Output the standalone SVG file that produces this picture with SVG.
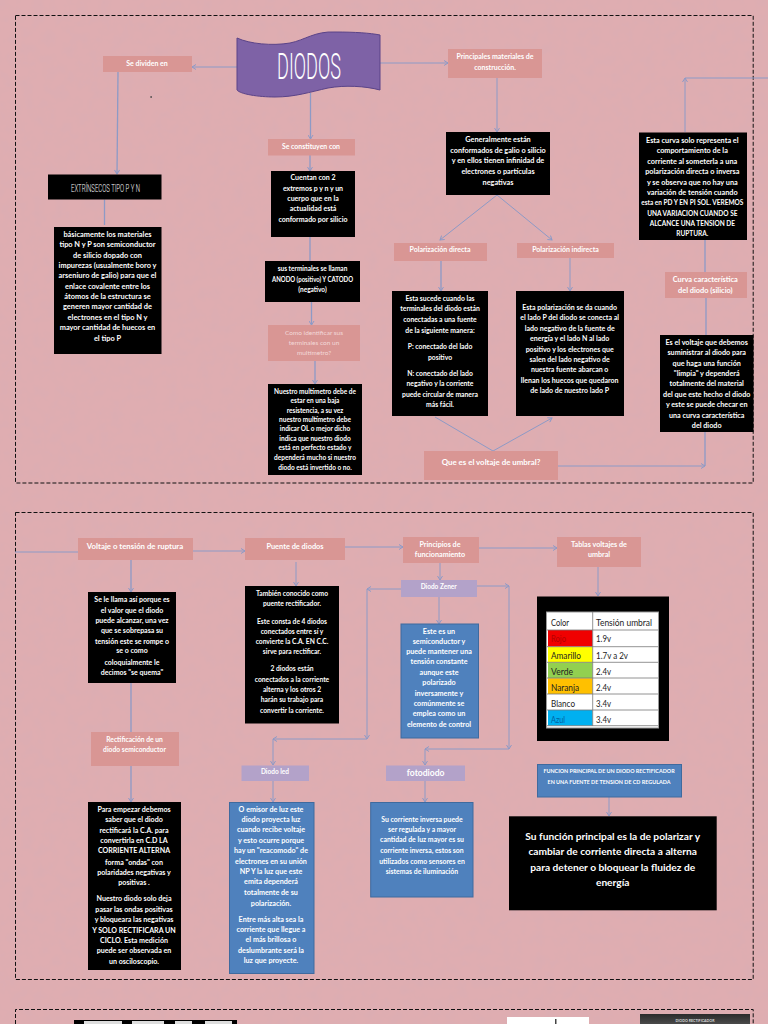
<svg xmlns="http://www.w3.org/2000/svg" width="768" height="1024" viewBox="0 0 768 1024">
<style>
text{font-family:Lato,"Open Sans","Liberation Sans",sans-serif;font-weight:700;fill:#fff;text-anchor:middle;font-size:7px}
.k{fill:#000}.s{fill:#d99694}.b{fill:#4f81bd;stroke:#3f6a9e;stroke-width:1}.l{fill:#b3a2c9}
.frame{fill:none;stroke:#111;stroke-width:1;stroke-dasharray:4 2}
.c{fill:none;stroke:#8d9ac6;stroke-width:1}.t{stroke-width:1.3}
.a{marker-end:url(#ah)}
.thin{font-weight:300;font-family:Roboto,Lato,sans-serif}
.tb{font-family:Lato,sans-serif;font-weight:400;font-size:10px;text-anchor:start;fill:#222}
</style>
<defs>
<marker id="ah" markerWidth="6" markerHeight="6" refX="5" refY="3" orient="auto" markerUnits="userSpaceOnUse"><path d="M1,0.5 L5,3 L1,5.5" fill="none" stroke="#8d9ac6" stroke-width="1"/></marker>
<filter id="tex" x="0" y="0" width="100%" height="100%"><feTurbulence type="fractalNoise" baseFrequency="0.09" numOctaves="4" seed="4"/><feColorMatrix values="0 0 0 0 0.70  0 0 0 0 0.42  0 0 0 0 0.45  1.3 0 0 0 -0.5"/></filter>
<linearGradient id="dk" x1="0" y1="0" x2="0" y2="1"><stop offset="0" stop-color="#2b2b2b"/><stop offset="1" stop-color="#4a4a4a"/></linearGradient>
</defs>
<rect width="768" height="1024" fill="#dfadb1"/>
<rect width="768" height="1024" filter="url(#tex)"/>
<rect class="frame" x="15.5" y="15.5" width="737.7" height="467.5"/>
<rect class="frame" x="15.5" y="512.5" width="737.7" height="467"/>
<path class="frame" d="M15.5,1024 V1009.5 H753.2 V1024"/>
<rect x="150.5" y="96" width="1.2" height="2" fill="#444"/>

<g id="connectors">
<path class="c a" d="M237,67 H192"/>
<path class="c t a" d="M118,72 L117,174"/>
<path class="c t" d="M104.5,199.5 V225"/>
<path class="c t a" d="M310.500,93 V139"/>
<path class="c t a" d="M310,155 V171"/>
<path class="c t" d="M310,232 V261"/>
<path class="c t a" d="M311.500,302 V325"/>
<path class="c t a" d="M315,361 V384"/>
<path class="c a" d="M380,63 H448"/>
<path class="c a" d="M497,78 V132"/>
<path class="c a" d="M497,195 L440,240"/>
<path class="c a" d="M497,195 L552,240"/>
<path class="c t a" d="M441,261 V291"/>
<path class="c a" d="M570,258 V291"/>
<path class="c" d="M435,417 L493,451"/>
<path class="c a" d="M493,451 L552,418"/>
<path class="c a" d="M558,466 H705"/>
<path class="c t" d="M705,432 V466"/>
<path class="c t" d="M705,240 V272"/>
<path class="c t" d="M706,298 V335"/>
<path class="c a" d="M685,132 V78"/>
<path class="c" d="M685,78 H768"/>
<path class="c" d="M15,552 H78"/>
<path class="c t a" d="M131,560 V592"/>
<path class="c t" d="M131,683 V732"/>
<path class="c t a" d="M131,766 V802"/>
<path class="c a" d="M193,551 H245"/>
<path class="c a" d="M296,562 V586"/>
<path class="c a" d="M345,547 H403"/>
<path class="c a" d="M479,548 H557"/>
<path class="c a" d="M440,563 V580"/>
<path class="c a" d="M477,586 H509"/>
<path class="c a" d="M509,586 V749"/>
<path class="c a" d="M509,749 H425"/>
<path class="c a" d="M425,749 V765"/>
<path class="c a" d="M401,589 H367"/>
<path class="c a" d="M367,589 V739"/>
<path class="c a" d="M367,739 H273"/>
<path class="c a" d="M273,739 V765"/>
<path class="c a" d="M439,597 V624"/>
<path class="c a" d="M598,567 V596"/>
<path class="c a" d="M273,781 V802"/>
<path class="c a" d="M425,781 V802"/>
<path class="c a" d="M609,797 V816"/>
</g>

<g id="n-diodos"><path d="M237,38 C250,44 272,46 290,43 C305,40 315,31 335,32 C355,32 370,33 380,35 V90 C365,86 345,85 328,88 C310,92 295,97 275,97 C258,97 240,94 237,90 Z" fill="#7e62a6" stroke="#5a4388" stroke-width="1"/><text class="thin" x="309" y="79" textLength="64" lengthAdjust="spacingAndGlyphs" style="font-size:36px">DIODOS</text></g>
<g id="n-dividen"><rect class="s" x="103" y="56" width="89" height="16"/><text x="147" y="66.200">Se dividen en</text></g>
<g id="n-principales"><rect class="s" x="448" y="49" width="94" height="29"/><text><tspan x="495" y="59">Principales materiales de</tspan><tspan x="495" y="69.500">construcción.</tspan></text></g>
<g id="n-constituyen"><rect class="s" x="268" y="139" width="87" height="16.500"/><text x="311" y="148.500" style="font-size:6.9px">Se constituyen con</text></g>
<g id="n-extrinsecos"><rect class="k" x="48" y="174.500" width="113.500" height="25"/><text class="thin" x="105.500" y="191.500" textLength="69" lengthAdjust="spacingAndGlyphs" style="font-size:11px">EXTRÍNSECOS TIPO P Y N</text></g>
<g id="n-basicamente"><rect class="k" x="54" y="227" width="107.500" height="127"/><text style="font-size:7.4px"><tspan x="107.500" y="236.500">básicamente los materiales</tspan><tspan x="107.500" y="246.500">tipo N y P son semiconductor</tspan><tspan x="107.500" y="258">de silicio dopado con</tspan><tspan x="107.500" y="268">impurezas (usualmente boro y</tspan><tspan x="107.500" y="278">arseniuro de galio) para que el</tspan><tspan x="107.500" y="288.500">enlace covalente entre los</tspan><tspan x="107.500" y="299">átomos de la estructura se</tspan><tspan x="107.500" y="309">generen mayor cantidad de</tspan><tspan x="107.500" y="320">electrones en el tipo N y</tspan><tspan x="107.500" y="330">mayor cantidad de huecos en</tspan><tspan x="107.500" y="340.500">el tipo P</tspan></text></g>
<g id="n-cuentan"><rect class="k" x="271" y="171" width="84" height="66"/><text><tspan x="313" y="180.200">Cuentan con 2</tspan><tspan x="313" y="191.200">extremos p y  n y un</tspan><tspan x="313" y="201.200">cuerpo que en la</tspan><tspan x="313" y="211.200">actualidad está</tspan><tspan x="313" y="222.200">conformado por silicio</tspan></text></g>
<g id="n-terminales"><rect class="k" x="265" y="261" width="95" height="41"/><text style="font-size:6.5px"><tspan x="312.500" y="271">sus terminales se llaman</tspan></text><text x="312.500" y="281.500" style="font-size:6.5px" textLength="81" lengthAdjust="spacingAndGlyphs">ANODO (positivo) Y CATODO</text><text x="312.500" y="292" style="font-size:6.5px">(negativo)</text></g>
<g id="n-identificar"><rect class="s" x="268" y="325" width="92" height="36"/><text style="font-weight:400;fill:#f3d9d9;font-size:6.5px"><tspan x="314" y="335.300">Como identificar sus</tspan><tspan x="314" y="344.500">terminales con un</tspan><tspan x="314" y="354.500">multímetro?</tspan></text></g>
<g id="n-multimetro"><rect class="k" x="268" y="384" width="94" height="91"/><text style="font-size:6.5px"><tspan x="315" y="394.200">Nuestro multímetro debe de</tspan><tspan x="315" y="403.200">estar en una baja</tspan><tspan x="315" y="412.500">resistencia, a su vez</tspan><tspan x="315" y="422.200">nuestro multímetro debe</tspan><tspan x="315" y="431.200">indicar OL o mejor dicho</tspan><tspan x="315" y="440.500">indica que nuestro diodo</tspan><tspan x="315" y="450.200">está en perfecto estado y</tspan><tspan x="315" y="459.500">dependerá mucho si nuestro</tspan><tspan x="315" y="469.500">diodo está invertido o no.</tspan></text></g>
<g id="n-generalmente"><rect class="k" x="446" y="132" width="104" height="63"/><text style="font-size:7.3px"><tspan x="498" y="142.200">Generalmente están</tspan><tspan x="498" y="153.200">conformados de galio o silicio</tspan><tspan x="498" y="163.200">y en ellos tienen infinidad de</tspan><tspan x="498" y="173.500">electrones o partículas</tspan><tspan x="498" y="184.500">negativas</tspan></text></g>
<g id="n-poldir"><rect class="s" x="394" y="243" width="93" height="18"/><text x="440" y="252">Polarización directa</text></g>
<g id="n-polind"><rect class="s" x="517" y="243" width="97" height="15"/><text x="565.500" y="252">Polarización indirecta</text></g>
<g id="n-sucede"><rect class="k" x="392" y="291" width="96" height="125"/><text style="font-size:6.8px"><tspan x="440" y="301.200">Esta sucede cuando las</tspan><tspan x="440" y="311.200">terminales del diodo están</tspan><tspan x="440" y="322.200">conectadas a una fuente</tspan><tspan x="440" y="332.500">de   la siguiente manera:</tspan><tspan x="440" y="349.200">P: conectado del lado</tspan><tspan x="440" y="359.500">positivo</tspan><tspan x="440" y="375.500">N: conectado del lado</tspan><tspan x="440" y="386.200">negativo y la corriente</tspan><tspan x="440" y="396.500">puede circular de manera</tspan><tspan x="440" y="406.500">más fácil.</tspan></text></g>
<g id="n-polarizacion"><rect class="k" x="516" y="291" width="108" height="125"/><text style="font-size:7px"><tspan x="569.700" y="309.900">Esta polarización se da cuando</tspan><tspan x="569.700" y="319.500">el lado P del diodo se conecta al</tspan><tspan x="569.700" y="331.200">lado negativo de la fuente de</tspan><tspan x="569.700" y="341.200">energía y el lado N al lado</tspan><tspan x="569.700" y="351.500">positivo y los electrones que</tspan><tspan x="569.700" y="361.900">salen del lado negativo de</tspan><tspan x="569.700" y="372.200">nuestra fuente abarcan o</tspan><tspan x="569.700" y="382.500">llenan los huecos que quedaron</tspan><tspan x="569.700" y="393.200">de lado de nuestro lado P</tspan></text></g>
<g id="n-umbral"><rect class="s" x="424" y="451" width="134" height="29"/><text x="491" y="465.300" style="font-size:7.9px">Que es el voltaje de umbral?</text></g>
<g id="n-curva"><rect class="k" x="639" y="132.500" width="108" height="107.500"/><text style="font-size:7.3px"><tspan x="692.300" y="142.500">Esta curva solo representa el</tspan><tspan x="692.300" y="153.200">comportamiento de la</tspan><tspan x="692.300" y="163.500">corriente al someterla a una</tspan><tspan x="692.300" y="173.900">polarización directa o inversa</tspan><tspan x="692.300" y="184.900">y se observa que no hay una</tspan><tspan x="692.300" y="194.900">variación de tensión cuando</tspan><tspan x="692.300" y="204.900" style="font-size:6.5px">esta en PD Y EN PI SOL. VEREMOS</tspan><tspan x="692.300" y="215.900" style="font-size:6.5px">UNA VARIACION CUANDO SE</tspan><tspan x="692.300" y="225.900" style="font-size:6.5px">ALCANCE UNA TENSION DE</tspan><tspan x="692.300" y="235.500" style="font-size:6.5px">RUPTURA.</tspan></text></g>
<g id="n-curvacar"><rect class="s" x="665" y="272" width="82" height="26"/><text style="font-size:7.4px"><tspan x="705.300" y="282">Curva característica</tspan><tspan x="705.300" y="293">del diodo (silicio)</tspan></text></g>
<g id="n-voltaje"><rect class="k" x="660" y="335" width="93.500" height="97"/><text style="font-size:7.2px"><tspan x="706.700" y="345.200">Es el voltaje que debemos</tspan><tspan x="706.700" y="355.200">suministrar al diodo para</tspan><tspan x="706.700" y="365.500">que haga una función</tspan><tspan x="706.700" y="375.900">"limpia" y dependerá</tspan><tspan x="706.700" y="386.200">totalmente del material</tspan><tspan x="706.700" y="396.500">del que este hecho el diodo</tspan><tspan x="706.700" y="407.200">y este se puede checar en</tspan><tspan x="706.700" y="417.500">una curva característica</tspan><tspan x="706.700" y="427.900">del diodo</tspan></text></g>

<g id="n-ruptura"><rect class="s" x="78" y="538" width="115" height="22"/><text x="135" y="548.800" style="font-size:7.8px">Voltaje o tensión de ruptura</text></g>
<g id="n-puente"><rect class="s" x="245" y="538" width="100" height="22"/><text x="295" y="548.800" style="font-size:7.4px">Puente de diodos</text></g>
<g id="n-principios"><rect class="s" x="403" y="537" width="76" height="26"/><text style="font-size:7.2px"><tspan x="440" y="547">Principios de</tspan><tspan x="440" y="557">funcionamiento</tspan></text></g>
<g id="n-tablas"><rect class="s" x="557" y="537" width="84" height="30"/><text style="font-size:7.2px"><tspan x="599" y="547">Tablas voltajes de</tspan><tspan x="599" y="557">umbral</tspan></text></g>
<g id="n-zener"><rect class="l" x="401" y="580" width="76" height="17"/><text x="438.700" y="589.200" style="font-size:6.5px">Diodo Zener</text></g>
<g id="n-zener-txt"><rect class="b" x="401" y="624" width="77.500" height="114"/><text style="font-size:7.2px"><tspan x="439" y="633.500">Este es un</tspan><tspan x="439" y="643.900">semiconductor y</tspan><tspan x="439" y="654.200">puede mantener una</tspan><tspan x="439" y="664.200">tensión constante</tspan><tspan x="439" y="674.500">aunque este</tspan><tspan x="439" y="685.200">polarizado</tspan><tspan x="439" y="695.500">inversamente y</tspan><tspan x="439" y="705.900">comúnmente se</tspan><tspan x="439" y="715.900">emplea como un</tspan><tspan x="439" y="726.500">elemento de control</tspan></text></g>
<g id="n-tabla"><rect class="k" x="537" y="596.500" width="132" height="144.500"/>
<rect x="546.500" y="612" width="112" height="116" fill="#fff" stroke="#999"/>
<rect x="548" y="630" width="44.500" height="16.500" fill="#f00000"/><rect x="548" y="647" width="44.500" height="15.300" fill="#ffff00"/><rect x="548" y="662.500" width="44.500" height="15.500" fill="#92d050"/><rect x="548" y="678.200" width="44.500" height="15.800" fill="#ffc000"/><rect x="548" y="710" width="44.500" height="15.700" fill="#00b0f0"/>
<path d="M547,630 H658 M547,646.700 H658 M547,662.300 H658 M547,678 H658 M547,694 H658 M547,710 H658 M547,725.700 H658 M592.700,612 V726" stroke="#777" stroke-width="0.800" fill="none"/>
<text class="tb" x="551" y="626" textLength="18" lengthAdjust="spacingAndGlyphs">Color</text><text class="tb" x="596" y="626" textLength="56" lengthAdjust="spacingAndGlyphs">Tensión umbral</text>
<text class="tb" x="551" y="642" style="fill:#b30000" textLength="15" lengthAdjust="spacingAndGlyphs">Rojo</text><text class="tb" x="596" y="642" textLength="15" lengthAdjust="spacingAndGlyphs">1.9v</text>
<text class="tb" x="551" y="659" textLength="30" lengthAdjust="spacingAndGlyphs">Amarillo</text><text class="tb" x="596" y="659" textLength="32" lengthAdjust="spacingAndGlyphs">1.7v a 2v</text>
<text class="tb" x="551" y="675" textLength="22" lengthAdjust="spacingAndGlyphs">Verde</text><text class="tb" x="596" y="675" textLength="15" lengthAdjust="spacingAndGlyphs">2.4v</text>
<text class="tb" x="551" y="691" textLength="28" lengthAdjust="spacingAndGlyphs">Naranja</text><text class="tb" x="596" y="691" textLength="15" lengthAdjust="spacingAndGlyphs">2.4v</text>
<text class="tb" x="551" y="707" textLength="24" lengthAdjust="spacingAndGlyphs">Blanco</text><text class="tb" x="596" y="707" textLength="15" lengthAdjust="spacingAndGlyphs">3.4v</text>
<text class="tb" x="551" y="723" style="fill:#0060a0" textLength="14" lengthAdjust="spacingAndGlyphs">Azul</text><text class="tb" x="596" y="723" textLength="15" lengthAdjust="spacingAndGlyphs">3.4v</text></g>
<g id="n-llama"><rect class="k" x="88" y="592" width="88" height="91"/><text><tspan x="132" y="602.200">Se le llama así porque es</tspan><tspan x="132" y="612.500">el valor que el diodo</tspan><tspan x="132" y="622.500">puede alcanzar, una vez</tspan><tspan x="132" y="633.200">que se sobrepasa su</tspan><tspan x="132" y="643.900">tensión este se rompe o</tspan><tspan x="132" y="653.200">se o como</tspan><tspan x="132" y="664.500">coloquialmente le</tspan><tspan x="132" y="674.500">decimos "se quema"</tspan></text></g>
<g id="n-tambien"><rect class="k" x="245" y="586" width="94" height="137.500"/><text style="font-size:6.7px"><tspan x="292" y="596.200">También conocido como</tspan><tspan x="292" y="606.200">puente rectificador.</tspan><tspan x="292" y="623.500">Este consta de 4 diodos</tspan><tspan x="292" y="633.500">conectados entre sí  y</tspan><tspan x="292" y="643.900">convierte la C.A. EN C.C.</tspan><tspan x="292" y="654.200">sirve para rectificar.</tspan><tspan x="292" y="670.500">2 diodos están</tspan><tspan x="292" y="681.900">conectados a la corriente</tspan><tspan x="292" y="691.900">alterna y los otros 2</tspan><tspan x="292" y="701.500">harán su trabajo para</tspan><tspan x="292" y="712.900">convertir la corriente.</tspan></text></g>
<g id="n-rectificacion"><rect class="s" x="91" y="732" width="88" height="34"/><text style="font-size:6.7px"><tspan x="134.500" y="741.500">Rectificación de un</tspan><tspan x="134.500" y="751.900">diodo semiconductor</tspan></text></g>
<g id="n-empezar"><rect class="k" x="88" y="802" width="93" height="168"/><text style="font-size:7.1px"><tspan x="134" y="812.200">Para empezar debemos</tspan><tspan x="134" y="822.200">saber que el diodo</tspan><tspan x="134" y="833.200">rectificará la C.A. para</tspan><tspan x="134" y="843.200">convertirla en C.D LA</tspan><tspan x="134" y="853.200">CORRIENTE ALTERNA</tspan><tspan x="134" y="864.500">forma "ondas" con</tspan><tspan x="134" y="874.500">polaridades negativas y</tspan><tspan x="134" y="884.900">positivas .</tspan><tspan x="134" y="901.200">Nuestro diodo solo deja</tspan><tspan x="134" y="911.500">pasar las ondas positivas</tspan><tspan x="134" y="921.900">y bloqueara las negativas</tspan><tspan x="134" y="932.500">Y SOLO RECTIFICARA UN</tspan><tspan x="134" y="942.500">CICLO. Esta medición</tspan><tspan x="134" y="952.900">puede ser observada en</tspan><tspan x="134" y="963.500">un osciloscopio.</tspan></text></g>
<g id="n-led"><rect class="l" x="241.500" y="765.500" width="67.500" height="15.500"/><text x="275" y="773.900" style="font-size:6.5px">Diodo led</text></g>
<g id="n-emisor"><rect class="b" x="229.500" y="802.500" width="84.500" height="171"/><text style="font-size:7.2px"><tspan x="271" y="812.200">O emisor de luz este</tspan><tspan x="271" y="822.200">diodo proyecta luz</tspan><tspan x="271" y="832.200">cuando recibe voltaje</tspan><tspan x="271" y="843.200">y esto ocurre porque</tspan><tspan x="271" y="853.200">hay un "reacomodo" de</tspan><tspan x="271" y="863.500">electrones en su unión</tspan><tspan x="271" y="874.200">NP Y la luz que este</tspan><tspan x="271" y="884.200">emita dependerá</tspan><tspan x="271" y="894.500">totalmente de su</tspan><tspan x="271" y="905.500">polarización.</tspan><tspan x="271" y="921.500">Entre más alta sea la</tspan><tspan x="271" y="931.900">corriente que llegue a</tspan><tspan x="271" y="942.200">el más brillosa o</tspan><tspan x="271" y="952.500">deslumbrante será la</tspan><tspan x="271" y="962.900">luz que proyecte.</tspan></text></g>
<g id="n-fotodiodo"><rect class="l" x="386" y="765.500" width="79" height="15.500"/><text x="425.700" y="776.300" style="font-size:8.6px">fotodiodo</text></g>
<g id="n-foto-txt"><rect class="b" x="370.700" y="802.500" width="102.300" height="94.500"/><text style="font-size:6.9px"><tspan x="422" y="822.200">Su corriente inversa  puede</tspan><tspan x="422" y="832.200">ser regulada y a mayor</tspan><tspan x="422" y="842.200">cantidad de luz mayor es su</tspan><tspan x="422" y="852.900">corriente inversa, estos son</tspan><tspan x="422" y="863.500">utilizados como sensores en</tspan><tspan x="422" y="873.900">sistemas de iluminación</tspan></text></g>
<g id="n-funcion"><rect class="b" x="537.500" y="764.500" width="144" height="32.500"/><text style="font-size:5.4px"><tspan x="609" y="773.300">FUNCION PRINCIPAL DE UN DIODO RECTIFICADOR</tspan><tspan x="609" y="783.700">EN UNA FUENTE DE TENSION DE CD REGULADA</tspan></text></g>
<g id="n-su-funcion"><rect class="k" x="509" y="816.300" width="207.700" height="94"/><text style="font-size:10.2px"><tspan x="612.700" y="840.200">Su función principal es la de polarizar y</tspan><tspan x="612.700" y="855.200">cambiar de corriente directa a alterna</tspan><tspan x="612.700" y="870.500">para detener o bloquear la fluidez de</tspan><tspan x="612.700" y="885.500">energía</tspan></text></g>

<g id="n-fragmento1"><rect class="k" x="74" y="1020" width="163" height="4"/><rect x="84" y="1021" width="38" height="3" fill="#ddd"/><rect x="132" y="1021" width="32" height="3" fill="#ddd"/><rect x="175" y="1021" width="17" height="3" fill="#ddd"/><rect x="205" y="1021" width="27" height="3" fill="#ddd"/></g>
<g id="n-fragmento2"><rect x="507" y="1017" width="82" height="7" fill="#fff"/><rect x="555" y="1019" width="1.500" height="5" fill="#444"/></g>
<g id="n-fragmento3"><rect x="640" y="1014" width="110" height="10" fill="url(#dk)"/><text x="695" y="1022" style="font-size:3.6px;fill:#ddd">DIODO RECTIFICADOR</text></g>
</svg>
